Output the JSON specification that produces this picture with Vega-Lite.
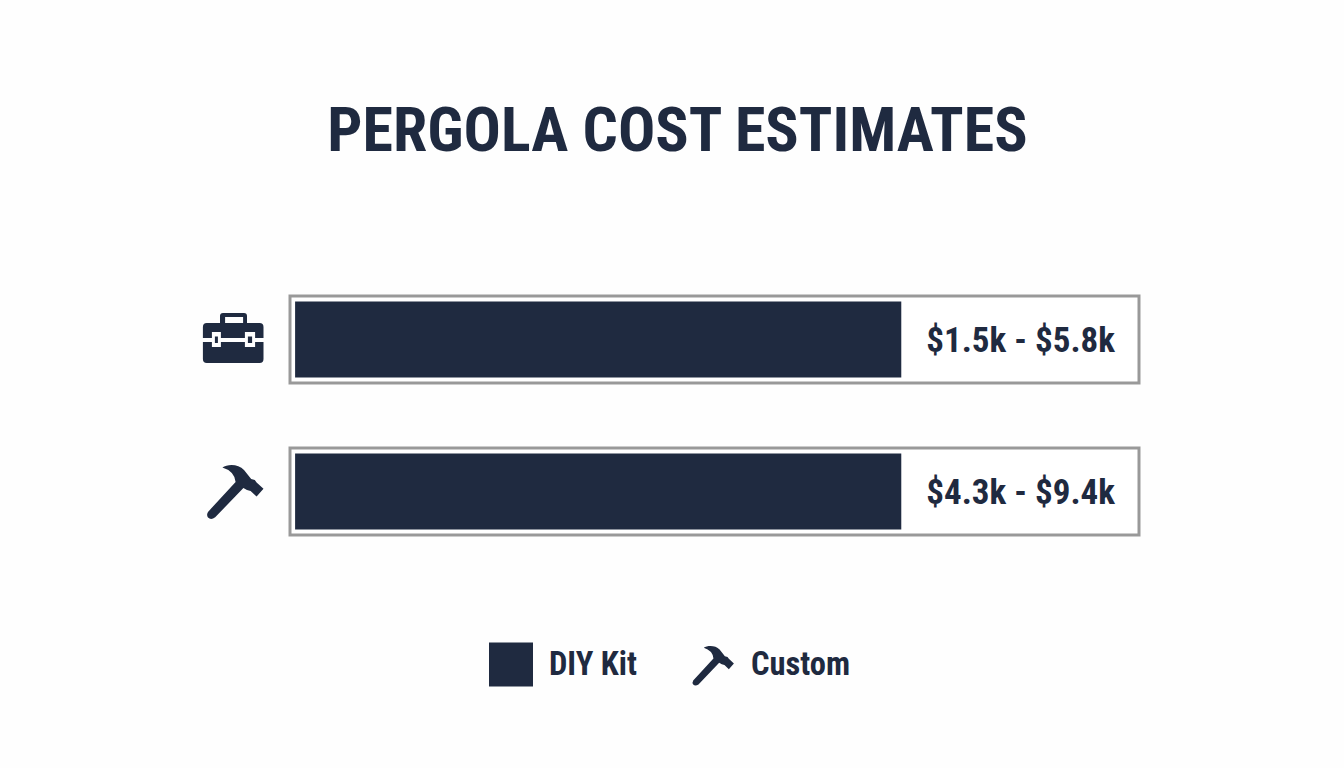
{
  "$schema": "https://vega.github.io/schema/vega-lite/v6.json",
  "title": {
    "text": "PERGOLA COST ESTIMATES",
    "font": "Roboto Condensed",
    "fontSize": 62,
    "fontWeight": "bold",
    "color": "#1f2a40",
    "anchor": "middle",
    "frame": "group",
    "dx": -37,
    "offset": 100
  },
  "width": 849,
  "height": 304,
  "autosize": "none",
  "padding": {"left": 290, "top": 263.5, "right": 205, "bottom": 200.5},
  "background": "#fefefe",
  "data": {
    "values": [
      {"type": "DIY Kit", "track_start": 0, "track_end": 100, "bar_start": 0.6, "bar_end": 72, "label": "$1.5k - $5.8k"},
      {"type": "Custom", "track_start": 0, "track_end": 100, "bar_start": 0.6, "bar_end": 72, "label": "$4.3k - $9.4k"}
    ]
  },
  "encoding": {
    "y": {
      "field": "type",
      "type": "nominal",
      "sort": null,
      "axis": null,
      "scale": {"domain": ["DIY Kit", "Custom"], "paddingInner": 0, "paddingOuter": 0}
    }
  },
  "layer": [
    {
      "mark": {"type": "bar", "size": 87, "fill": "#ffffff", "stroke": "#999999", "strokeWidth": 3, "cornerRadius": 0},
      "encoding": {
        "x": {"field": "track_start", "type": "quantitative", "axis": null, "scale": {"domain": [0, 100], "nice": false}},
        "x2": {"field": "track_end"}
      }
    },
    {
      "mark": {"type": "bar", "size": 76, "fill": "#1f2a40"},
      "encoding": {
        "x": {"field": "bar_start", "type": "quantitative"},
        "x2": {"field": "bar_end"}
      }
    },
    {
      "mark": {"type": "text", "align": "left", "baseline": "middle", "dx": 25, "dy": 1, "font": "Roboto Condensed", "fontWeight": "bold", "fontSize": 35, "fill": "#1f2a40"},
      "encoding": {
        "x": {"field": "bar_end", "type": "quantitative"},
        "text": {"field": "label"}
      }
    },
    {
      "mark": {"type": "point", "filled": true, "fill": "#1f2a40", "stroke": null, "opacity": 1, "size": 3600, "xOffset": -55},
      "encoding": {
        "x": {"field": "track_start", "type": "quantitative"},
        "shape": {
          "field": "type",
          "type": "nominal",
          "legend": null,
          "scale": {
            "domain": ["DIY Kit", "Custom"],
            "range": [
              "M -0.94 -0.55 L 0.82 -0.55 Q 0.95 -0.55 0.95 -0.42 L 0.95 0.65 Q 0.95 0.78 0.82 0.78 L -0.94 0.78 Q -1.07 0.78 -1.07 0.65 L -1.07 -0.42 Q -1.07 -0.55 -0.94 -0.55 Z M 0.95 -0.05 L 0.67 -0.05 L 0.67 -0.25 L 0.33 -0.25 L 0.33 -0.05 L -0.47 -0.05 L -0.47 -0.25 L -0.77 -0.25 L -0.77 -0.05 L -1.07 -0.05 L -1.07 0.08 L -0.77 0.08 L -0.77 0.25 L -0.47 0.25 L -0.47 0.08 L 0.33 0.08 L 0.33 0.25 L 0.67 0.25 L 0.67 0.08 L 0.95 0.08 Z M -0.67 -0.1 L -0.57 -0.1 L -0.57 0.12 L -0.67 0.12 Z M 0.43 -0.1 L 0.57 -0.1 L 0.57 0.12 L 0.43 0.12 Z M -0.5 -0.55 L -0.5 -0.78 Q -0.5 -0.88 -0.4 -0.88 L 0.3 -0.88 Q 0.4 -0.88 0.4 -0.78 L 0.4 -0.55 L 0.27 -0.55 L 0.27 -0.75 L -0.33 -0.75 L -0.33 -0.55 Z",
              "M -0.42 -0.8 C -0.25 -0.92 0.12 -0.92 0.3 -0.72 L 0.54 -0.42 L 0.66 -0.38 L 0.72 -0.3 L 0.95 -0.09 L 0.72 0.17 L 0.52 -0.02 L 0.4 -0.05 L 0.28 -0.12 L -0.66 0.86 Q -0.8 0.96 -0.9 0.87 Q -0.96 0.78 -0.9 0.68 L 0.02 -0.32 Q -0.02 -0.68 -0.42 -0.8 Z"
            ]
          }
        }
      }
    },
    {
      "mark": {"type": "point", "filled": true, "size": 0, "fill": "#1f2a40", "stroke": null},
      "encoding": {
        "x": {"field": "track_start", "type": "quantitative"},
        "shape": {
          "field": "type",
          "type": "nominal",
          "scale": {
            "domain": ["DIY Kit", "Custom"],
            "range": [
              "square",
              "M -0.42 -0.8 C -0.25 -0.92 0.12 -0.92 0.3 -0.72 L 0.54 -0.42 L 0.66 -0.38 L 0.72 -0.3 L 0.95 -0.09 L 0.72 0.17 L 0.52 -0.02 L 0.4 -0.05 L 0.28 -0.12 L -0.66 0.86 Q -0.8 0.96 -0.9 0.87 Q -0.96 0.78 -0.9 0.68 L 0.02 -0.32 Q -0.02 -0.68 -0.42 -0.8 Z"
            ]
          },
          "legend": {
            "title": null,
            "orient": "none",
            "legendX": 199,
            "legendY": 379,
            "direction": "horizontal",
            "columns": 2,
            "symbolSize": 1936,
            "symbolFillColor": "#1f2a40",
            "symbolStrokeColor": "#1f2a40",
            "symbolStrokeWidth": 0,
            "symbolOpacity": 1,
            "labelFont": "Roboto Condensed",
            "labelFontWeight": "bold",
            "labelFontSize": 32.5,
            "labelColor": "#1f2a40",
            "labelOffset": 16,
            "columnPadding": 54,
            "labelLimit": 200
          }
        }
      }
    }
  ],
  "resolve": {"scale": {"shape": "independent"}},
  "config": {"view": {"stroke": null}}
}
